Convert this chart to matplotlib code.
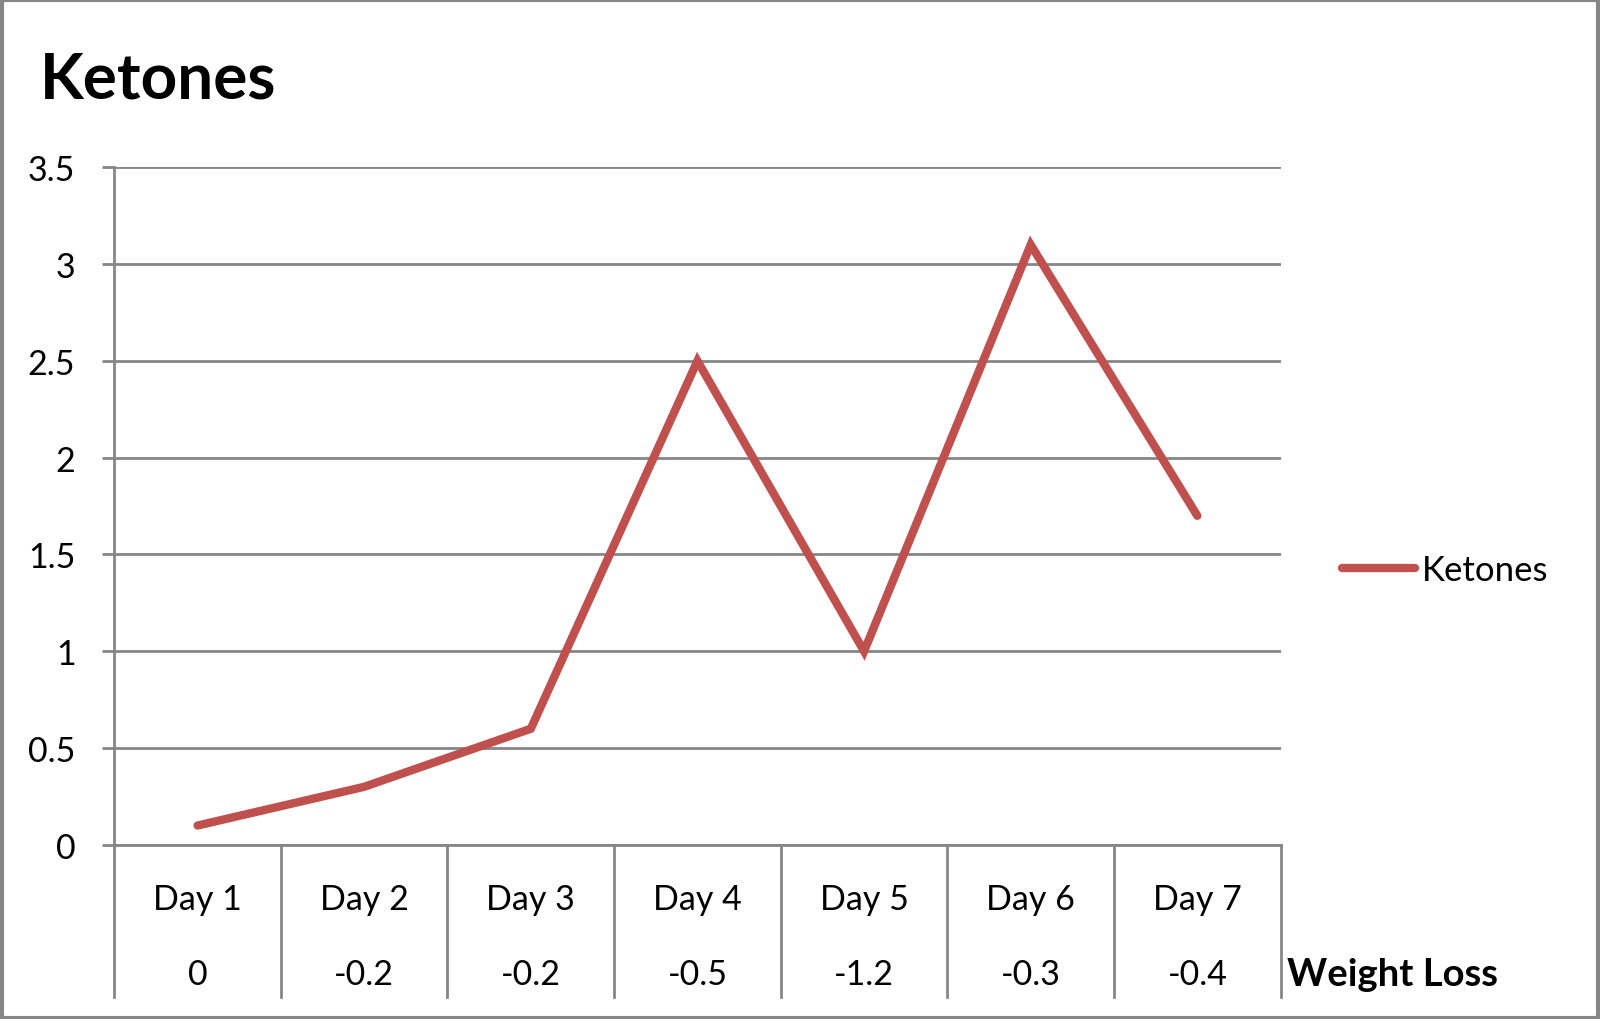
import matplotlib
matplotlib.use('Agg')
import matplotlib.pyplot as plt
from matplotlib.patches import Rectangle

# data
days = ['Day 1', 'Day 2', 'Day 3', 'Day 4', 'Day 5', 'Day 6', 'Day 7']
ketones = [0.1, 0.3, 0.6, 2.5, 1.0, 3.1, 1.7]
weight_loss = ['0', '-0.2', '-0.2', '-0.5', '-1.2', '-0.3', '-0.4']
yticks = [0, 0.5, 1, 1.5, 2, 2.5, 3, 3.5]

plt.rcParams['font.family'] = ['Lato', 'DejaVu Sans']
grey = '#868686'
red = '#C0504D'

fig = plt.figure(figsize=(16, 10.2), dpi=100)
ax = fig.add_axes([0.0714, 0.1707, 0.7290, 0.6643])

x = list(range(len(days)))
ax.plot(x, ketones, color=red, lw=6.0, solid_capstyle='round',
        solid_joinstyle='miter', label='Ketones', zorder=3)

ax.set_xlim(-0.5, len(days) - 0.5)
ax.set_ylim(0, 3.5)
ax.set_yticks(yticks)
ax.set_yticklabels(['0', '0.5', '1', '1.5', '2', '2.5', '3', '3.5'])
ax.grid(axis='y', color=grey, lw=2)
ax.set_axisbelow(True)
ax.tick_params(axis='y', length=9, width=2, color=grey, pad=19,
               labelsize=24.5)
ax.set_xticks([])
for s in ['top', 'right']:
    ax.spines[s].set_visible(False)
ax.spines['left'].set_color(grey)
ax.spines['left'].set_linewidth(2)
ax.spines['bottom'].set_color(grey)
ax.spines['bottom'].set_linewidth(2)

# category table below the axis
tr = ax.get_xaxis_transform()
for i in range(len(days) + 1):
    ax.plot([i - 0.5, i - 0.5], [0, -0.224], transform=tr, color=grey,
            lw=2, clip_on=False)
for i, (d, w) in enumerate(zip(days, weight_loss)):
    ax.text(i, -0.08, d, transform=tr, ha='center', va='center',
            fontsize=24.5)
    ax.text(i, -0.19, w, transform=tr, ha='center', va='center',
            fontsize=24.5)
ax.text(len(days) - 0.46, -0.19, 'Weight Loss', transform=tr, ha='left',
        va='center', fontsize=27.5, fontweight='bold')

fig.text(0.025, 0.903, 'Ketones', fontsize=46, fontweight='bold',
         ha='left', va='baseline')

ax.legend(loc='center left', bbox_to_anchor=(0.8385, 0.44),
          bbox_transform=fig.transFigure, frameon=False, fontsize=25,
          handlelength=2.1, handletextpad=0.22, borderpad=0,
          borderaxespad=0)

fig.patches.append(Rectangle((0.001, 0.001), 0.998, 0.998,
                             transform=fig.transFigure, fill=False,
                             edgecolor=grey, lw=3))

fig.savefig('out.png', dpi=100)
